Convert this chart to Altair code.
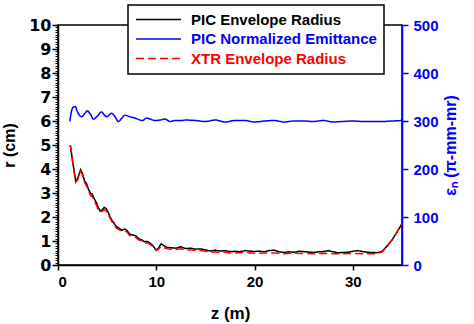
import altair as alt
import pandas as pd

# Beam envelope radius along the transport line (z in m, r in cm)
z_pic = [1.25, 1.5, 1.8, 2.0, 2.3, 2.5, 2.7, 2.9, 3.1, 3.3, 3.5, 3.7, 3.9, 4.1, 4.3,
         4.5, 4.7, 4.9, 5.1, 5.3, 5.5, 5.7, 5.9, 6.1, 6.3, 6.5, 6.8, 7.0, 7.3, 7.6,
         7.9, 8.2, 8.5, 8.8, 9.1, 9.4, 9.7, 10.0, 10.2, 10.5, 10.8, 11.1, 11.5, 12.0,
         12.5, 13.0, 13.5, 14.0, 14.5, 15.0, 15.5, 16.0, 16.5, 17.0, 17.5, 18.0, 18.5,
         19.0, 19.5, 20.0, 20.5, 21.0, 21.5, 22.0, 22.5, 23.0, 23.5, 24.0, 24.5, 25.0,
         25.5, 26.0, 26.5, 27.0, 27.5, 28.0, 28.5, 29.0, 29.5, 30.0, 30.5, 31.0, 31.5,
         32.0, 32.5, 33.0, 33.5, 34.0, 34.5, 35.0]
r_pic = [5.0, 4.3, 3.5, 3.6, 3.97, 3.8, 3.5, 3.4, 3.15, 3.0, 2.95, 2.75, 2.6, 2.4, 2.25,
         2.3, 2.4, 2.35, 2.2, 2.0, 1.85, 1.75, 1.62, 1.57, 1.5, 1.45, 1.5, 1.45, 1.28, 1.25,
         1.22, 1.1, 1.05, 0.97, 0.98, 0.9, 0.78, 0.62, 0.7, 0.88, 0.8, 0.73, 0.72, 0.7,
         0.76, 0.68, 0.7, 0.66, 0.67, 0.63, 0.58, 0.62, 0.58, 0.6, 0.56, 0.57, 0.55,
         0.6, 0.58, 0.56, 0.58, 0.55, 0.6, 0.62, 0.55, 0.52, 0.55, 0.53, 0.57, 0.56,
         0.54, 0.52, 0.55, 0.56, 0.6, 0.55, 0.51, 0.52, 0.53, 0.57, 0.6, 0.56, 0.53,
         0.52, 0.51, 0.58, 0.8, 1.05, 1.38, 1.72]

z_xtr = [1.25, 1.5, 1.8, 2.0, 2.3, 2.5, 2.7, 2.9, 3.1, 3.3, 3.5, 3.7, 3.9, 4.1, 4.3,
         4.5, 4.7, 4.9, 5.1, 5.3, 5.5, 5.7, 5.9, 6.1, 6.3, 6.5, 6.8, 7.0, 7.3, 7.6,
         7.9, 8.2, 8.5, 8.8, 9.1, 9.4, 9.7, 10.0, 10.2, 10.5, 10.8, 11.1, 11.5, 12.0,
         12.5, 13.0, 13.5, 14.0, 14.5, 15.0, 15.5, 16.0, 16.5, 17.0, 17.5, 18.0, 19.0,
         20.0, 21.0, 22.0, 23.0, 24.0, 25.0, 26.0, 27.0, 28.0, 29.0, 30.0, 31.0, 32.0,
         32.5, 33.0, 33.5, 34.0, 34.5, 35.0]
r_xtr = [5.0, 4.25, 3.45, 3.55, 3.9, 3.75, 3.45, 3.3, 3.1, 2.9, 2.85, 2.65, 2.5, 2.3, 2.2,
         2.25, 2.3, 2.25, 2.1, 1.95, 1.8, 1.68, 1.55, 1.5, 1.45, 1.4, 1.42, 1.38, 1.22, 1.18,
         1.15, 1.05, 1.0, 0.92, 0.92, 0.85, 0.75, 0.6, 0.65, 0.78, 0.72, 0.68, 0.66, 0.65,
         0.68, 0.62, 0.63, 0.6, 0.6, 0.57, 0.53, 0.55, 0.52, 0.53, 0.5, 0.5, 0.52,
         0.49, 0.5, 0.5, 0.47, 0.49, 0.48, 0.47, 0.49, 0.47, 0.47, 0.48, 0.47, 0.47,
         0.47, 0.55, 0.78, 1.05, 1.38, 1.72]

# Normalized emittance (pi-mm-mr)
z_emit = [1.2, 1.35, 1.55, 1.75, 2.0, 2.4, 2.7, 2.98, 3.3, 3.6, 4.0, 4.44, 4.7, 4.95,
          5.46, 5.8, 6.14, 6.5, 6.8, 7.3, 7.83, 8.6, 9.0, 9.9, 10.4, 10.9, 11.4, 11.9,
          12.5, 13.0, 14.0, 15.0, 16.0, 17.0, 18.0, 19.0, 20.0, 21.0, 22.0, 23.0, 24.0,
          25.0, 26.0, 27.0, 28.0, 29.0, 30.0, 31.0, 32.0, 33.0, 34.0, 35.0]
emit = [299, 318, 329, 330, 318, 309, 315, 321, 314, 304, 310, 319, 313, 309,
        316, 309, 299, 306, 312, 309, 306, 301, 306, 301, 302, 304, 299, 301,
        301, 302, 301, 299, 302, 298, 301, 301, 298, 300, 301, 298, 300,
        300, 299, 301, 298, 299, 300, 299, 299, 299, 300, 301]

series_names = ["PIC Envelope Radius", "PIC Normalized Emittance", "XTR Envelope Radius"]
series_colors = ["#000000", "#0000ff", "#ff0000"]
series_dashes = [[1, 0], [1, 0], [8, 4]]

r_ticks = list(range(0, 11))
r_minor = [round(i * 0.1, 1) for i in range(0, 101)]
z_ticks = [0, 10, 20, 30]
emit_ticks = [0, 100, 200, 300, 400, 500]

pic = pd.DataFrame({"z": z_pic, "v": r_pic, "series": series_names[0]})
xtr = pd.DataFrame({"z": z_xtr, "v": r_xtr, "series": series_names[2]})
emt = pd.DataFrame({"z": z_emit, "v": emit, "series": series_names[1]})

LAB = "Liberation Sans"

x_enc = alt.X(
    "z:Q",
    scale=alt.Scale(domain=[0, 35], nice=False, zero=False),
    axis=alt.Axis(
        values=z_ticks, title="z (m)", grid=False, domainColor="black", domainWidth=1.5,
        tickColor="black", tickWidth=1.5, tickSize=5, labelPadding=4,
        labelFont=LAB, labelFontWeight="bold", labelFontSize=15, labelColor="black",
        titleFont=LAB, titleFontWeight="bold", titleFontSize=17, titleColor="black",
        titleX=172, titleY=40, titleBaseline="top",
    ),
)

label_color_expr = (
    f"datum.value === '{series_names[1]}' ? '{series_colors[1]}' : "
    f"(datum.value === '{series_names[2]}' ? '{series_colors[2]}' : '{series_colors[0]}')"
)

color_enc = alt.Color(
    "series:N",
    scale=alt.Scale(domain=series_names, range=series_colors),
    legend=alt.Legend(
        title=None, orient="none", legendX=70, legendY=-20, direction="vertical",
        symbolType="M-1,0H1", symbolSize=2025, symbolStrokeWidth=1.5, clipHeight=15,
        labelFont=LAB, labelFontWeight="bold", labelFontSize=15, labelOffset=9,
        labelLimit=0, padding=7, rowPadding=3.5, strokeColor="black", fillColor="white",
        labelColor={"expr": label_color_expr},
    ),
)
dash_enc = alt.StrokeDash(
    "series:N",
    scale=alt.Scale(domain=series_names, range=series_dashes),
    legend=None,
)

r_scale = alt.Scale(domain=[0, 10], nice=False, zero=False)

pic_line = alt.Chart(pic).mark_line(strokeWidth=1.5).encode(
    x=x_enc,
    y=alt.Y(
        "v:Q", scale=r_scale,
        axis=alt.Axis(
            orient="left", values=r_ticks, format="d", title="r (cm)", grid=False,
            domainColor="black", domainWidth=1.5, tickColor="black", tickWidth=1.5,
            tickSize=6, labelPadding=1, labelFont="DejaVu Sans", labelFontWeight="bold",
            labelFontSize=16, labelColor="black",
            titleFont=LAB, titleFontWeight="bold", titleFontSize=16, titleColor="black",
            titleX=-41, titleY=120,
        ),
    ),
    color=color_enc,
    strokeDash=dash_enc,
)

xtr_line = alt.Chart(xtr).mark_line(strokeWidth=1.5).encode(
    x=x_enc,
    y=alt.Y(
        "v:Q", scale=r_scale,
        axis=alt.Axis(
            orient="left", values=r_minor, labels=False, title=None, grid=False,
            domain=False, tickColor="black", tickWidth=1, tickSize=3,
        ),
    ),
    color=color_enc,
    strokeDash=dash_enc,
)

emit_line = alt.Chart(emt).mark_line(strokeWidth=1.5, interpolate="monotone").encode(
    x=x_enc,
    y=alt.Y(
        "v:Q",
        scale=alt.Scale(domain=[0, 500], nice=False, zero=False),
        axis=alt.Axis(
            orient="right", values=emit_ticks, title="εₙ (π-mm-mr)", grid=False,
            domainColor="#0000ff", domainWidth=1.5, tickColor="#0000ff", tickWidth=1.5,
            tickSize=6, labelPadding=5, labelFont=LAB, labelFontWeight="bold",
            labelFontSize=15, labelColor="#0000ff",
            titleFont=LAB, titleFontWeight="bold", titleFontSize=16, titleColor="#0000ff",
            titleAngle=-90, titleAlign="center", titleX=56, titleY=120,
            titleBaseline="bottom",
        ),
    ),
    color=color_enc,
    strokeDash=dash_enc,
)

chart = (
    alt.layer(pic_line, xtr_line, emit_line)
    .resolve_scale(y="independent")
    .properties(
        width=344, height=240,
        autosize=alt.AutoSizeParams(type="none"),
        padding={"left": 58, "top": 25, "right": 72, "bottom": 59},
        background="white",
    )
    .configure_view(stroke="black", strokeWidth=1.5)
    .configure_legend(strokeWidth=1.5)
)

chart.save("out.html", embed_options={"renderer": "svg", "actions": False})
